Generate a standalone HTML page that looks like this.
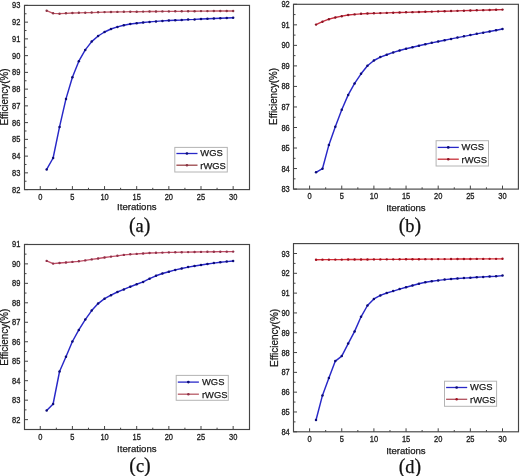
<!DOCTYPE html>
<html><head><meta charset="utf-8"><title>WGS vs rWGS efficiency</title>
<style>
html,body{margin:0;padding:0;background:#fff;}
body{width:520px;height:476px;overflow:hidden;}
svg{display:block;}
text{font-family:"Liberation Sans",Arial,sans-serif;fill:#1a1a1a;}
.tk text{font-size:8.5px;stroke:#1a1a1a;stroke-width:0.3px;}
.lg{font-size:9.4px;stroke:#1a1a1a;stroke-width:0.25px;}
.at{font-size:9.6px;stroke:#1a1a1a;stroke-width:0.25px;}
.yt{font-size:10px;}
.pp{font-size:19.9px;}
.cap{font-family:"Liberation Serif","Times New Roman",serif;font-size:18.4px;fill:#111;stroke:#111;stroke-width:0.25px;}
</style></head><body>
<svg width="520" height="476" viewBox="0 0 520 476">
<rect width="520" height="476" fill="#fff"/>
<rect x="24.5" y="5.4" width="225" height="184.2" fill="none" stroke="#444444" stroke-width="1.15"/><g stroke="#444444" stroke-width="1"><line x1="24.5" y1="189.6" x2="28" y2="189.6"/><line x1="24.5" y1="172.85" x2="28" y2="172.85"/><line x1="24.5" y1="156.11" x2="28" y2="156.11"/><line x1="24.5" y1="139.36" x2="28" y2="139.36"/><line x1="24.5" y1="122.62" x2="28" y2="122.62"/><line x1="24.5" y1="105.87" x2="28" y2="105.87"/><line x1="24.5" y1="89.13" x2="28" y2="89.13"/><line x1="24.5" y1="72.38" x2="28" y2="72.38"/><line x1="24.5" y1="55.63" x2="28" y2="55.63"/><line x1="24.5" y1="38.89" x2="28" y2="38.89"/><line x1="24.5" y1="22.15" x2="28" y2="22.15"/><line x1="24.5" y1="5.4" x2="28" y2="5.4"/><line x1="24.5" y1="181.22" x2="26.5" y2="181.22"/><line x1="24.5" y1="164.48" x2="26.5" y2="164.48"/><line x1="24.5" y1="147.73" x2="26.5" y2="147.73"/><line x1="24.5" y1="130.99" x2="26.5" y2="130.99"/><line x1="24.5" y1="114.24" x2="26.5" y2="114.24"/><line x1="24.5" y1="97.5" x2="26.5" y2="97.5"/><line x1="24.5" y1="80.75" x2="26.5" y2="80.75"/><line x1="24.5" y1="64.01" x2="26.5" y2="64.01"/><line x1="24.5" y1="47.26" x2="26.5" y2="47.26"/><line x1="24.5" y1="30.52" x2="26.5" y2="30.52"/><line x1="24.5" y1="13.77" x2="26.5" y2="13.77"/><line x1="40.25" y1="189.6" x2="40.25" y2="186.1"/><line x1="72.4" y1="189.6" x2="72.4" y2="186.1"/><line x1="104.55" y1="189.6" x2="104.55" y2="186.1"/><line x1="136.7" y1="189.6" x2="136.7" y2="186.1"/><line x1="168.85" y1="189.6" x2="168.85" y2="186.1"/><line x1="201" y1="189.6" x2="201" y2="186.1"/><line x1="233.15" y1="189.6" x2="233.15" y2="186.1"/><line x1="56.33" y1="189.6" x2="56.33" y2="187.8"/><line x1="88.47" y1="189.6" x2="88.47" y2="187.8"/><line x1="120.62" y1="189.6" x2="120.62" y2="187.8"/><line x1="152.77" y1="189.6" x2="152.77" y2="187.8"/><line x1="184.92" y1="189.6" x2="184.92" y2="187.8"/><line x1="217.07" y1="189.6" x2="217.07" y2="187.8"/></g><g class="tk"><text transform="translate(20.3 192.6) scale(0.88 1)" text-anchor="end">82</text><text transform="translate(20.3 175.85) scale(0.88 1)" text-anchor="end">83</text><text transform="translate(20.3 159.11) scale(0.88 1)" text-anchor="end">84</text><text transform="translate(20.3 142.36) scale(0.88 1)" text-anchor="end">85</text><text transform="translate(20.3 125.62) scale(0.88 1)" text-anchor="end">86</text><text transform="translate(20.3 108.87) scale(0.88 1)" text-anchor="end">87</text><text transform="translate(20.3 92.13) scale(0.88 1)" text-anchor="end">88</text><text transform="translate(20.3 75.38) scale(0.88 1)" text-anchor="end">89</text><text transform="translate(20.3 58.63) scale(0.88 1)" text-anchor="end">90</text><text transform="translate(20.3 41.89) scale(0.88 1)" text-anchor="end">91</text><text transform="translate(20.3 25.15) scale(0.88 1)" text-anchor="end">92</text><text transform="translate(20.3 8.4) scale(0.88 1)" text-anchor="end">93</text><text transform="translate(40.25 199.9) scale(0.88 1)" text-anchor="middle">0</text><text transform="translate(72.4 199.9) scale(0.88 1)" text-anchor="middle">5</text><text transform="translate(104.55 199.9) scale(0.88 1)" text-anchor="middle">10</text><text transform="translate(136.7 199.9) scale(0.88 1)" text-anchor="middle">15</text><text transform="translate(168.85 199.9) scale(0.88 1)" text-anchor="middle">20</text><text transform="translate(201 199.9) scale(0.88 1)" text-anchor="middle">25</text><text transform="translate(233.15 199.9) scale(0.88 1)" text-anchor="middle">30</text></g><polyline points="46.68,10.7 53.11,13.3 59.54,13.7 65.97,13.3 72.4,13 78.83,12.8 85.26,12.7 91.69,12.55 98.12,12.3 104.55,12.1 110.98,12 117.41,11.9 123.84,11.8 130.27,11.7 136.7,11.7 143.13,11.6 149.56,11.5 155.99,11.5 162.42,11.4 168.85,11.4 175.28,11.3 181.71,11.3 188.14,11.2 194.57,11.2 201,11.1 207.43,11.1 213.86,11 220.29,11 226.72,11 233.15,11" fill="none" stroke="#c25868" stroke-width="1.35" stroke-linejoin="round"/><g fill="#8a3444"><circle cx="46.68" cy="10.7" r="1.2"/><circle cx="53.11" cy="13.3" r="1.2"/><circle cx="59.54" cy="13.7" r="1.2"/><circle cx="65.97" cy="13.3" r="1.2"/><circle cx="72.4" cy="13" r="1.2"/><circle cx="78.83" cy="12.8" r="1.2"/><circle cx="85.26" cy="12.7" r="1.2"/><circle cx="91.69" cy="12.55" r="1.2"/><circle cx="98.12" cy="12.3" r="1.2"/><circle cx="104.55" cy="12.1" r="1.2"/><circle cx="110.98" cy="12" r="1.2"/><circle cx="117.41" cy="11.9" r="1.2"/><circle cx="123.84" cy="11.8" r="1.2"/><circle cx="130.27" cy="11.7" r="1.2"/><circle cx="136.7" cy="11.7" r="1.2"/><circle cx="143.13" cy="11.6" r="1.2"/><circle cx="149.56" cy="11.5" r="1.2"/><circle cx="155.99" cy="11.5" r="1.2"/><circle cx="162.42" cy="11.4" r="1.2"/><circle cx="168.85" cy="11.4" r="1.2"/><circle cx="175.28" cy="11.3" r="1.2"/><circle cx="181.71" cy="11.3" r="1.2"/><circle cx="188.14" cy="11.2" r="1.2"/><circle cx="194.57" cy="11.2" r="1.2"/><circle cx="201" cy="11.1" r="1.2"/><circle cx="207.43" cy="11.1" r="1.2"/><circle cx="213.86" cy="11" r="1.2"/><circle cx="220.29" cy="11" r="1.2"/><circle cx="226.72" cy="11" r="1.2"/><circle cx="233.15" cy="11" r="1.2"/></g><polyline points="46.68,169.4 53.11,158 59.54,126.9 65.97,98.9 72.4,77.3 78.83,61.2 85.26,49.9 91.69,41.6 98.12,36 104.55,32 110.98,29 117.41,26.9 123.84,25.25 130.27,24 136.7,23.25 143.13,22.5 149.56,21.9 155.99,21.4 162.42,20.9 168.85,20.5 175.28,20.25 181.71,20 188.14,19.6 194.57,19.4 201,19 207.43,18.75 213.86,18.5 220.29,18.25 226.72,18 233.15,17.8" fill="none" stroke="#2828c8" stroke-width="1.45" stroke-linejoin="round"/><g fill="#0c0c78"><circle cx="46.68" cy="169.4" r="1.25"/><circle cx="53.11" cy="158" r="1.25"/><circle cx="59.54" cy="126.9" r="1.25"/><circle cx="65.97" cy="98.9" r="1.25"/><circle cx="72.4" cy="77.3" r="1.25"/><circle cx="78.83" cy="61.2" r="1.25"/><circle cx="85.26" cy="49.9" r="1.25"/><circle cx="91.69" cy="41.6" r="1.25"/><circle cx="98.12" cy="36" r="1.25"/><circle cx="104.55" cy="32" r="1.25"/><circle cx="110.98" cy="29" r="1.25"/><circle cx="117.41" cy="26.9" r="1.25"/><circle cx="123.84" cy="25.25" r="1.25"/><circle cx="130.27" cy="24" r="1.25"/><circle cx="136.7" cy="23.25" r="1.25"/><circle cx="143.13" cy="22.5" r="1.25"/><circle cx="149.56" cy="21.9" r="1.25"/><circle cx="155.99" cy="21.4" r="1.25"/><circle cx="162.42" cy="20.9" r="1.25"/><circle cx="168.85" cy="20.5" r="1.25"/><circle cx="175.28" cy="20.25" r="1.25"/><circle cx="181.71" cy="20" r="1.25"/><circle cx="188.14" cy="19.6" r="1.25"/><circle cx="194.57" cy="19.4" r="1.25"/><circle cx="201" cy="19" r="1.25"/><circle cx="207.43" cy="18.75" r="1.25"/><circle cx="213.86" cy="18.5" r="1.25"/><circle cx="220.29" cy="18.25" r="1.25"/><circle cx="226.72" cy="18" r="1.25"/><circle cx="233.15" cy="17.8" r="1.25"/></g><rect x="174.8" y="147.4" width="52.5" height="24.6" fill="#fff" stroke="#b4b4b4" stroke-width="1"/><line x1="176.4" y1="153.5" x2="197.5" y2="153.5" stroke="#2828c8" stroke-width="1.3"/><circle cx="186.95" cy="153.5" r="1.35" fill="#0c0c78"/><line x1="176.4" y1="165.2" x2="197.5" y2="165.2" stroke="#9a4448" stroke-width="1.3"/><circle cx="186.95" cy="165.2" r="1.25" fill="#8a3444"/><text class="lg" x="200.3" y="156.4">WGS</text><text class="lg" x="200.3" y="168.7">rWGS</text><text class="at yt" transform="translate(7.9 97.1) rotate(-90)" text-anchor="middle" textLength="57" lengthAdjust="spacingAndGlyphs">Efficiency(%)</text><text class="at" x="136.8" y="209.9" text-anchor="middle">Iterations</text><text class="cap" x="139.6" y="231.9" text-anchor="middle"><tspan class="pp">(</tspan>a<tspan class="pp">)</tspan></text><rect x="293.5" y="4.3" width="224.9" height="184.8" fill="none" stroke="#444444" stroke-width="1.15"/><g stroke="#444444" stroke-width="1"><line x1="293.5" y1="189.1" x2="297" y2="189.1"/><line x1="293.5" y1="168.56" x2="297" y2="168.56"/><line x1="293.5" y1="148.03" x2="297" y2="148.03"/><line x1="293.5" y1="127.5" x2="297" y2="127.5"/><line x1="293.5" y1="106.97" x2="297" y2="106.97"/><line x1="293.5" y1="86.43" x2="297" y2="86.43"/><line x1="293.5" y1="65.9" x2="297" y2="65.9"/><line x1="293.5" y1="45.37" x2="297" y2="45.37"/><line x1="293.5" y1="24.83" x2="297" y2="24.83"/><line x1="293.5" y1="4.3" x2="297" y2="4.3"/><line x1="293.5" y1="178.83" x2="295.5" y2="178.83"/><line x1="293.5" y1="158.3" x2="295.5" y2="158.3"/><line x1="293.5" y1="137.76" x2="295.5" y2="137.76"/><line x1="293.5" y1="117.23" x2="295.5" y2="117.23"/><line x1="293.5" y1="96.7" x2="295.5" y2="96.7"/><line x1="293.5" y1="76.17" x2="295.5" y2="76.17"/><line x1="293.5" y1="55.63" x2="295.5" y2="55.63"/><line x1="293.5" y1="35.1" x2="295.5" y2="35.1"/><line x1="293.5" y1="14.57" x2="295.5" y2="14.57"/><line x1="309.6" y1="189.1" x2="309.6" y2="185.6"/><line x1="341.75" y1="189.1" x2="341.75" y2="185.6"/><line x1="373.9" y1="189.1" x2="373.9" y2="185.6"/><line x1="406.05" y1="189.1" x2="406.05" y2="185.6"/><line x1="438.2" y1="189.1" x2="438.2" y2="185.6"/><line x1="470.35" y1="189.1" x2="470.35" y2="185.6"/><line x1="502.5" y1="189.1" x2="502.5" y2="185.6"/><line x1="325.68" y1="189.1" x2="325.68" y2="187.3"/><line x1="357.83" y1="189.1" x2="357.83" y2="187.3"/><line x1="389.98" y1="189.1" x2="389.98" y2="187.3"/><line x1="422.12" y1="189.1" x2="422.12" y2="187.3"/><line x1="454.27" y1="189.1" x2="454.27" y2="187.3"/><line x1="486.43" y1="189.1" x2="486.43" y2="187.3"/></g><g class="tk"><text transform="translate(289.7 192.1) scale(0.88 1)" text-anchor="end">83</text><text transform="translate(289.7 171.56) scale(0.88 1)" text-anchor="end">84</text><text transform="translate(289.7 151.03) scale(0.88 1)" text-anchor="end">85</text><text transform="translate(289.7 130.5) scale(0.88 1)" text-anchor="end">86</text><text transform="translate(289.7 109.97) scale(0.88 1)" text-anchor="end">87</text><text transform="translate(289.7 89.43) scale(0.88 1)" text-anchor="end">88</text><text transform="translate(289.7 68.9) scale(0.88 1)" text-anchor="end">89</text><text transform="translate(289.7 48.37) scale(0.88 1)" text-anchor="end">90</text><text transform="translate(289.7 27.83) scale(0.88 1)" text-anchor="end">91</text><text transform="translate(289.7 7.3) scale(0.88 1)" text-anchor="end">92</text><text transform="translate(309.6 199.4) scale(0.88 1)" text-anchor="middle">0</text><text transform="translate(341.75 199.4) scale(0.88 1)" text-anchor="middle">5</text><text transform="translate(373.9 199.4) scale(0.88 1)" text-anchor="middle">10</text><text transform="translate(406.05 199.4) scale(0.88 1)" text-anchor="middle">15</text><text transform="translate(438.2 199.4) scale(0.88 1)" text-anchor="middle">20</text><text transform="translate(470.35 199.4) scale(0.88 1)" text-anchor="middle">25</text><text transform="translate(502.5 199.4) scale(0.88 1)" text-anchor="middle">30</text></g><polyline points="316.03,24.6 322.46,21.7 328.89,19.2 335.32,17.5 341.75,16.2 348.18,15 354.61,14.4 361.04,13.8 367.47,13.5 373.9,13.3 380.33,13.1 386.76,12.9 393.19,12.7 399.62,12.5 406.05,12.32 412.48,12.14 418.91,11.96 425.34,11.78 431.77,11.59 438.2,11.41 444.63,11.23 451.06,11.05 457.49,10.87 463.92,10.69 470.35,10.51 476.78,10.32 483.21,10.14 489.64,9.96 496.07,9.78 502.5,9.6" fill="none" stroke="#c42c3c" stroke-width="1.35" stroke-linejoin="round"/><g fill="#8a1424"><circle cx="316.03" cy="24.6" r="1.2"/><circle cx="322.46" cy="21.7" r="1.2"/><circle cx="328.89" cy="19.2" r="1.2"/><circle cx="335.32" cy="17.5" r="1.2"/><circle cx="341.75" cy="16.2" r="1.2"/><circle cx="348.18" cy="15" r="1.2"/><circle cx="354.61" cy="14.4" r="1.2"/><circle cx="361.04" cy="13.8" r="1.2"/><circle cx="367.47" cy="13.5" r="1.2"/><circle cx="373.9" cy="13.3" r="1.2"/><circle cx="380.33" cy="13.1" r="1.2"/><circle cx="386.76" cy="12.9" r="1.2"/><circle cx="393.19" cy="12.7" r="1.2"/><circle cx="399.62" cy="12.5" r="1.2"/><circle cx="406.05" cy="12.32" r="1.2"/><circle cx="412.48" cy="12.14" r="1.2"/><circle cx="418.91" cy="11.96" r="1.2"/><circle cx="425.34" cy="11.78" r="1.2"/><circle cx="431.77" cy="11.59" r="1.2"/><circle cx="438.2" cy="11.41" r="1.2"/><circle cx="444.63" cy="11.23" r="1.2"/><circle cx="451.06" cy="11.05" r="1.2"/><circle cx="457.49" cy="10.87" r="1.2"/><circle cx="463.92" cy="10.69" r="1.2"/><circle cx="470.35" cy="10.51" r="1.2"/><circle cx="476.78" cy="10.32" r="1.2"/><circle cx="483.21" cy="10.14" r="1.2"/><circle cx="489.64" cy="9.96" r="1.2"/><circle cx="496.07" cy="9.78" r="1.2"/><circle cx="502.5" cy="9.6" r="1.2"/></g><polyline points="316.03,172.3 322.46,168.7 328.89,144.9 335.32,126.7 341.75,109.7 348.18,94.9 354.61,83.4 361.04,73.8 367.47,65.7 373.9,60.5 380.33,57.1 386.76,54.7 393.19,52.4 399.62,50.5 406.05,48.8 412.48,47.3 418.91,45.8 425.34,44.25 431.77,42.85 438.2,41.5 444.63,40.19 451.06,38.89 457.49,37.61 463.92,36.35 470.35,35.1 476.78,33.87 483.21,32.64 489.64,31.42 496.07,30.21 502.5,29" fill="none" stroke="#2828c8" stroke-width="1.45" stroke-linejoin="round"/><g fill="#0c0c78"><circle cx="316.03" cy="172.3" r="1.25"/><circle cx="322.46" cy="168.7" r="1.25"/><circle cx="328.89" cy="144.9" r="1.25"/><circle cx="335.32" cy="126.7" r="1.25"/><circle cx="341.75" cy="109.7" r="1.25"/><circle cx="348.18" cy="94.9" r="1.25"/><circle cx="354.61" cy="83.4" r="1.25"/><circle cx="361.04" cy="73.8" r="1.25"/><circle cx="367.47" cy="65.7" r="1.25"/><circle cx="373.9" cy="60.5" r="1.25"/><circle cx="380.33" cy="57.1" r="1.25"/><circle cx="386.76" cy="54.7" r="1.25"/><circle cx="393.19" cy="52.4" r="1.25"/><circle cx="399.62" cy="50.5" r="1.25"/><circle cx="406.05" cy="48.8" r="1.25"/><circle cx="412.48" cy="47.3" r="1.25"/><circle cx="418.91" cy="45.8" r="1.25"/><circle cx="425.34" cy="44.25" r="1.25"/><circle cx="431.77" cy="42.85" r="1.25"/><circle cx="438.2" cy="41.5" r="1.25"/><circle cx="444.63" cy="40.19" r="1.25"/><circle cx="451.06" cy="38.89" r="1.25"/><circle cx="457.49" cy="37.61" r="1.25"/><circle cx="463.92" cy="36.35" r="1.25"/><circle cx="470.35" cy="35.1" r="1.25"/><circle cx="476.78" cy="33.87" r="1.25"/><circle cx="483.21" cy="32.64" r="1.25"/><circle cx="489.64" cy="31.42" r="1.25"/><circle cx="496.07" cy="30.21" r="1.25"/><circle cx="502.5" cy="29" r="1.25"/></g><rect x="436.1" y="140.7" width="52.4" height="25.3" fill="#fff" stroke="#b4b4b4" stroke-width="1"/><line x1="437.7" y1="147.4" x2="458.8" y2="147.4" stroke="#2828c8" stroke-width="1.3"/><circle cx="448.25" cy="147.4" r="1.35" fill="#0c0c78"/><line x1="437.7" y1="159.2" x2="458.8" y2="159.2" stroke="#c83038" stroke-width="1.3"/><circle cx="448.25" cy="159.2" r="1.25" fill="#8a1424"/><text class="lg" x="461.6" y="150.3">WGS</text><text class="lg" x="461.6" y="162.7">rWGS</text><text class="at yt" transform="translate(277.4 96.4) rotate(-90)" text-anchor="middle" textLength="57" lengthAdjust="spacingAndGlyphs">Efficiency(%)</text><text class="at" x="405.9" y="210.9" text-anchor="middle">Iterations</text><text class="cap" x="409.9" y="231.9" text-anchor="middle"><tspan class="pp">(</tspan>b<tspan class="pp">)</tspan></text><rect x="24.5" y="244.5" width="225" height="185" fill="none" stroke="#444444" stroke-width="1.15"/><g stroke="#444444" stroke-width="1"><line x1="24.5" y1="419.63" x2="28" y2="419.63"/><line x1="24.5" y1="400.16" x2="28" y2="400.16"/><line x1="24.5" y1="380.69" x2="28" y2="380.69"/><line x1="24.5" y1="361.22" x2="28" y2="361.22"/><line x1="24.5" y1="341.75" x2="28" y2="341.75"/><line x1="24.5" y1="322.28" x2="28" y2="322.28"/><line x1="24.5" y1="302.81" x2="28" y2="302.81"/><line x1="24.5" y1="283.34" x2="28" y2="283.34"/><line x1="24.5" y1="263.87" x2="28" y2="263.87"/><line x1="24.5" y1="244.4" x2="28" y2="244.4"/><line x1="24.5" y1="409.89" x2="26.5" y2="409.89"/><line x1="24.5" y1="390.42" x2="26.5" y2="390.42"/><line x1="24.5" y1="370.95" x2="26.5" y2="370.95"/><line x1="24.5" y1="351.49" x2="26.5" y2="351.49"/><line x1="24.5" y1="332.01" x2="26.5" y2="332.01"/><line x1="24.5" y1="312.55" x2="26.5" y2="312.55"/><line x1="24.5" y1="293.07" x2="26.5" y2="293.07"/><line x1="24.5" y1="273.61" x2="26.5" y2="273.61"/><line x1="24.5" y1="254.13" x2="26.5" y2="254.13"/><line x1="40.25" y1="429.5" x2="40.25" y2="426"/><line x1="72.4" y1="429.5" x2="72.4" y2="426"/><line x1="104.55" y1="429.5" x2="104.55" y2="426"/><line x1="136.7" y1="429.5" x2="136.7" y2="426"/><line x1="168.85" y1="429.5" x2="168.85" y2="426"/><line x1="201" y1="429.5" x2="201" y2="426"/><line x1="233.15" y1="429.5" x2="233.15" y2="426"/><line x1="56.33" y1="429.5" x2="56.33" y2="427.7"/><line x1="88.47" y1="429.5" x2="88.47" y2="427.7"/><line x1="120.62" y1="429.5" x2="120.62" y2="427.7"/><line x1="152.77" y1="429.5" x2="152.77" y2="427.7"/><line x1="184.92" y1="429.5" x2="184.92" y2="427.7"/><line x1="217.07" y1="429.5" x2="217.07" y2="427.7"/></g><g class="tk"><text transform="translate(20.3 422.63) scale(0.88 1)" text-anchor="end">82</text><text transform="translate(20.3 403.16) scale(0.88 1)" text-anchor="end">83</text><text transform="translate(20.3 383.69) scale(0.88 1)" text-anchor="end">84</text><text transform="translate(20.3 364.22) scale(0.88 1)" text-anchor="end">85</text><text transform="translate(20.3 344.75) scale(0.88 1)" text-anchor="end">86</text><text transform="translate(20.3 325.28) scale(0.88 1)" text-anchor="end">87</text><text transform="translate(20.3 305.81) scale(0.88 1)" text-anchor="end">88</text><text transform="translate(20.3 286.34) scale(0.88 1)" text-anchor="end">89</text><text transform="translate(20.3 266.87) scale(0.88 1)" text-anchor="end">90</text><text transform="translate(20.3 247.4) scale(0.88 1)" text-anchor="end">91</text><text transform="translate(40.25 439.8) scale(0.88 1)" text-anchor="middle">0</text><text transform="translate(72.4 439.8) scale(0.88 1)" text-anchor="middle">5</text><text transform="translate(104.55 439.8) scale(0.88 1)" text-anchor="middle">10</text><text transform="translate(136.7 439.8) scale(0.88 1)" text-anchor="middle">15</text><text transform="translate(168.85 439.8) scale(0.88 1)" text-anchor="middle">20</text><text transform="translate(201 439.8) scale(0.88 1)" text-anchor="middle">25</text><text transform="translate(233.15 439.8) scale(0.88 1)" text-anchor="middle">30</text></g><polyline points="46.68,260.9 53.11,263.6 59.54,263 65.97,262.5 72.4,261.9 78.83,261.3 85.26,260.4 91.69,259.4 98.12,258.5 104.55,257.5 110.98,256.6 117.41,255.8 123.84,254.9 130.27,254.3 136.7,253.9 143.13,253.5 149.56,253 155.99,252.8 162.42,252.6 168.85,252.4 175.28,252.3 181.71,252.2 188.14,252.1 194.57,252 201,251.9 207.43,251.8 213.86,251.75 220.29,251.7 226.72,251.65 233.15,251.6" fill="none" stroke="#c05068" stroke-width="1.35" stroke-linejoin="round"/><g fill="#903048"><circle cx="46.68" cy="260.9" r="1.2"/><circle cx="53.11" cy="263.6" r="1.2"/><circle cx="59.54" cy="263" r="1.2"/><circle cx="65.97" cy="262.5" r="1.2"/><circle cx="72.4" cy="261.9" r="1.2"/><circle cx="78.83" cy="261.3" r="1.2"/><circle cx="85.26" cy="260.4" r="1.2"/><circle cx="91.69" cy="259.4" r="1.2"/><circle cx="98.12" cy="258.5" r="1.2"/><circle cx="104.55" cy="257.5" r="1.2"/><circle cx="110.98" cy="256.6" r="1.2"/><circle cx="117.41" cy="255.8" r="1.2"/><circle cx="123.84" cy="254.9" r="1.2"/><circle cx="130.27" cy="254.3" r="1.2"/><circle cx="136.7" cy="253.9" r="1.2"/><circle cx="143.13" cy="253.5" r="1.2"/><circle cx="149.56" cy="253" r="1.2"/><circle cx="155.99" cy="252.8" r="1.2"/><circle cx="162.42" cy="252.6" r="1.2"/><circle cx="168.85" cy="252.4" r="1.2"/><circle cx="175.28" cy="252.3" r="1.2"/><circle cx="181.71" cy="252.2" r="1.2"/><circle cx="188.14" cy="252.1" r="1.2"/><circle cx="194.57" cy="252" r="1.2"/><circle cx="201" cy="251.9" r="1.2"/><circle cx="207.43" cy="251.8" r="1.2"/><circle cx="213.86" cy="251.75" r="1.2"/><circle cx="220.29" cy="251.7" r="1.2"/><circle cx="226.72" cy="251.65" r="1.2"/><circle cx="233.15" cy="251.6" r="1.2"/></g><polyline points="46.68,410.5 53.11,404 59.54,371.5 65.97,356.8 72.4,341.5 78.83,329.9 85.26,319.6 91.69,310.6 98.12,303.6 104.55,298.7 110.98,295.2 117.41,292 123.84,289.4 130.27,286.7 136.7,284.2 143.13,281.9 149.56,278.7 155.99,275.8 162.42,273.5 168.85,271.7 175.28,269.9 181.71,268.5 188.14,267.1 194.57,266 201,265 207.43,264 213.86,263.1 220.29,262.3 226.72,261.6 233.15,261" fill="none" stroke="#2828c8" stroke-width="1.45" stroke-linejoin="round"/><g fill="#0c0c78"><circle cx="46.68" cy="410.5" r="1.25"/><circle cx="53.11" cy="404" r="1.25"/><circle cx="59.54" cy="371.5" r="1.25"/><circle cx="65.97" cy="356.8" r="1.25"/><circle cx="72.4" cy="341.5" r="1.25"/><circle cx="78.83" cy="329.9" r="1.25"/><circle cx="85.26" cy="319.6" r="1.25"/><circle cx="91.69" cy="310.6" r="1.25"/><circle cx="98.12" cy="303.6" r="1.25"/><circle cx="104.55" cy="298.7" r="1.25"/><circle cx="110.98" cy="295.2" r="1.25"/><circle cx="117.41" cy="292" r="1.25"/><circle cx="123.84" cy="289.4" r="1.25"/><circle cx="130.27" cy="286.7" r="1.25"/><circle cx="136.7" cy="284.2" r="1.25"/><circle cx="143.13" cy="281.9" r="1.25"/><circle cx="149.56" cy="278.7" r="1.25"/><circle cx="155.99" cy="275.8" r="1.25"/><circle cx="162.42" cy="273.5" r="1.25"/><circle cx="168.85" cy="271.7" r="1.25"/><circle cx="175.28" cy="269.9" r="1.25"/><circle cx="181.71" cy="268.5" r="1.25"/><circle cx="188.14" cy="267.1" r="1.25"/><circle cx="194.57" cy="266" r="1.25"/><circle cx="201" cy="265" r="1.25"/><circle cx="207.43" cy="264" r="1.25"/><circle cx="213.86" cy="263.1" r="1.25"/><circle cx="220.29" cy="262.3" r="1.25"/><circle cx="226.72" cy="261.6" r="1.25"/><circle cx="233.15" cy="261" r="1.25"/></g><rect x="176.2" y="375.4" width="52.1" height="24.9" fill="#fff" stroke="#b4b4b4" stroke-width="1"/><line x1="177.8" y1="382.1" x2="198.9" y2="382.1" stroke="#2828c8" stroke-width="1.3"/><circle cx="188.35" cy="382.1" r="1.35" fill="#0c0c78"/><line x1="177.8" y1="394.2" x2="198.9" y2="394.2" stroke="#b85a66" stroke-width="1.3"/><circle cx="188.35" cy="394.2" r="1.25" fill="#903048"/><text class="lg" x="202" y="385">WGS</text><text class="lg" x="202" y="397.7">rWGS</text><text class="at yt" transform="translate(8.2 337.2) rotate(-90)" text-anchor="middle" textLength="57" lengthAdjust="spacingAndGlyphs">Efficiency(%)</text><text class="at" x="136.8" y="451.8" text-anchor="middle">Iterations</text><text class="cap" x="140" y="472.1" text-anchor="middle"><tspan class="pp">(</tspan>c<tspan class="pp">)</tspan></text><rect x="293.5" y="243.6" width="225" height="188.2" fill="none" stroke="#444444" stroke-width="1.15"/><g stroke="#444444" stroke-width="1"><line x1="293.5" y1="431.79" x2="297" y2="431.79"/><line x1="293.5" y1="411.98" x2="297" y2="411.98"/><line x1="293.5" y1="392.17" x2="297" y2="392.17"/><line x1="293.5" y1="372.36" x2="297" y2="372.36"/><line x1="293.5" y1="352.55" x2="297" y2="352.55"/><line x1="293.5" y1="332.74" x2="297" y2="332.74"/><line x1="293.5" y1="312.93" x2="297" y2="312.93"/><line x1="293.5" y1="293.12" x2="297" y2="293.12"/><line x1="293.5" y1="273.31" x2="297" y2="273.31"/><line x1="293.5" y1="253.5" x2="297" y2="253.5"/><line x1="293.5" y1="421.88" x2="295.5" y2="421.88"/><line x1="293.5" y1="402.07" x2="295.5" y2="402.07"/><line x1="293.5" y1="382.26" x2="295.5" y2="382.26"/><line x1="293.5" y1="362.45" x2="295.5" y2="362.45"/><line x1="293.5" y1="342.64" x2="295.5" y2="342.64"/><line x1="293.5" y1="322.83" x2="295.5" y2="322.83"/><line x1="293.5" y1="303.02" x2="295.5" y2="303.02"/><line x1="293.5" y1="283.21" x2="295.5" y2="283.21"/><line x1="293.5" y1="263.4" x2="295.5" y2="263.4"/><line x1="309.6" y1="431.8" x2="309.6" y2="428.3"/><line x1="341.75" y1="431.8" x2="341.75" y2="428.3"/><line x1="373.9" y1="431.8" x2="373.9" y2="428.3"/><line x1="406.05" y1="431.8" x2="406.05" y2="428.3"/><line x1="438.2" y1="431.8" x2="438.2" y2="428.3"/><line x1="470.35" y1="431.8" x2="470.35" y2="428.3"/><line x1="502.5" y1="431.8" x2="502.5" y2="428.3"/><line x1="325.68" y1="431.8" x2="325.68" y2="430"/><line x1="357.83" y1="431.8" x2="357.83" y2="430"/><line x1="389.98" y1="431.8" x2="389.98" y2="430"/><line x1="422.12" y1="431.8" x2="422.12" y2="430"/><line x1="454.27" y1="431.8" x2="454.27" y2="430"/><line x1="486.43" y1="431.8" x2="486.43" y2="430"/></g><g class="tk"><text transform="translate(289.7 434.79) scale(0.88 1)" text-anchor="end">84</text><text transform="translate(289.7 414.98) scale(0.88 1)" text-anchor="end">85</text><text transform="translate(289.7 395.17) scale(0.88 1)" text-anchor="end">86</text><text transform="translate(289.7 375.36) scale(0.88 1)" text-anchor="end">87</text><text transform="translate(289.7 355.55) scale(0.88 1)" text-anchor="end">88</text><text transform="translate(289.7 335.74) scale(0.88 1)" text-anchor="end">89</text><text transform="translate(289.7 315.93) scale(0.88 1)" text-anchor="end">90</text><text transform="translate(289.7 296.12) scale(0.88 1)" text-anchor="end">91</text><text transform="translate(289.7 276.31) scale(0.88 1)" text-anchor="end">92</text><text transform="translate(289.7 256.5) scale(0.88 1)" text-anchor="end">93</text><text transform="translate(309.6 442.1) scale(0.88 1)" text-anchor="middle">0</text><text transform="translate(341.75 442.1) scale(0.88 1)" text-anchor="middle">5</text><text transform="translate(373.9 442.1) scale(0.88 1)" text-anchor="middle">10</text><text transform="translate(406.05 442.1) scale(0.88 1)" text-anchor="middle">15</text><text transform="translate(438.2 442.1) scale(0.88 1)" text-anchor="middle">20</text><text transform="translate(470.35 442.1) scale(0.88 1)" text-anchor="middle">25</text><text transform="translate(502.5 442.1) scale(0.88 1)" text-anchor="middle">30</text></g><polyline points="316.03,259.7 322.46,259.67 328.89,259.64 335.32,259.61 341.75,259.58 348.18,259.54 354.61,259.51 361.04,259.48 367.47,259.45 373.9,259.42 380.33,259.39 386.76,259.36 393.19,259.33 399.62,259.3 406.05,259.27 412.48,259.23 418.91,259.2 425.34,259.17 431.77,259.14 438.2,259.11 444.63,259.08 451.06,259.05 457.49,259.02 463.92,258.99 470.35,258.96 476.78,258.92 483.21,258.89 489.64,258.86 496.07,258.83 502.5,258.8" fill="none" stroke="#d83038" stroke-width="1.35" stroke-linejoin="round"/><g fill="#a01020"><circle cx="316.03" cy="259.7" r="1.2"/><circle cx="322.46" cy="259.67" r="1.2"/><circle cx="328.89" cy="259.64" r="1.2"/><circle cx="335.32" cy="259.61" r="1.2"/><circle cx="341.75" cy="259.58" r="1.2"/><circle cx="348.18" cy="259.54" r="1.2"/><circle cx="354.61" cy="259.51" r="1.2"/><circle cx="361.04" cy="259.48" r="1.2"/><circle cx="367.47" cy="259.45" r="1.2"/><circle cx="373.9" cy="259.42" r="1.2"/><circle cx="380.33" cy="259.39" r="1.2"/><circle cx="386.76" cy="259.36" r="1.2"/><circle cx="393.19" cy="259.33" r="1.2"/><circle cx="399.62" cy="259.3" r="1.2"/><circle cx="406.05" cy="259.27" r="1.2"/><circle cx="412.48" cy="259.23" r="1.2"/><circle cx="418.91" cy="259.2" r="1.2"/><circle cx="425.34" cy="259.17" r="1.2"/><circle cx="431.77" cy="259.14" r="1.2"/><circle cx="438.2" cy="259.11" r="1.2"/><circle cx="444.63" cy="259.08" r="1.2"/><circle cx="451.06" cy="259.05" r="1.2"/><circle cx="457.49" cy="259.02" r="1.2"/><circle cx="463.92" cy="258.99" r="1.2"/><circle cx="470.35" cy="258.96" r="1.2"/><circle cx="476.78" cy="258.92" r="1.2"/><circle cx="483.21" cy="258.89" r="1.2"/><circle cx="489.64" cy="258.86" r="1.2"/><circle cx="496.07" cy="258.83" r="1.2"/><circle cx="502.5" cy="258.8" r="1.2"/></g><polyline points="316.03,420 322.46,395.4 328.89,378 335.32,361.1 341.75,356.1 348.18,343.6 354.61,331.4 361.04,316.8 367.47,305.5 373.9,298.9 380.33,295.4 386.76,293 393.19,291.1 399.62,289.1 406.05,287.3 412.48,285.5 418.91,283.7 425.34,282.3 431.77,281.3 438.2,280.4 444.63,279.6 451.06,279 457.49,278.5 463.92,278.1 470.35,277.7 476.78,277.3 483.21,276.9 489.64,276.5 496.07,276.2 502.5,275.6" fill="none" stroke="#2828c8" stroke-width="1.45" stroke-linejoin="round"/><g fill="#0c0c78"><circle cx="316.03" cy="420" r="1.25"/><circle cx="322.46" cy="395.4" r="1.25"/><circle cx="328.89" cy="378" r="1.25"/><circle cx="335.32" cy="361.1" r="1.25"/><circle cx="341.75" cy="356.1" r="1.25"/><circle cx="348.18" cy="343.6" r="1.25"/><circle cx="354.61" cy="331.4" r="1.25"/><circle cx="361.04" cy="316.8" r="1.25"/><circle cx="367.47" cy="305.5" r="1.25"/><circle cx="373.9" cy="298.9" r="1.25"/><circle cx="380.33" cy="295.4" r="1.25"/><circle cx="386.76" cy="293" r="1.25"/><circle cx="393.19" cy="291.1" r="1.25"/><circle cx="399.62" cy="289.1" r="1.25"/><circle cx="406.05" cy="287.3" r="1.25"/><circle cx="412.48" cy="285.5" r="1.25"/><circle cx="418.91" cy="283.7" r="1.25"/><circle cx="425.34" cy="282.3" r="1.25"/><circle cx="431.77" cy="281.3" r="1.25"/><circle cx="438.2" cy="280.4" r="1.25"/><circle cx="444.63" cy="279.6" r="1.25"/><circle cx="451.06" cy="279" r="1.25"/><circle cx="457.49" cy="278.5" r="1.25"/><circle cx="463.92" cy="278.1" r="1.25"/><circle cx="470.35" cy="277.7" r="1.25"/><circle cx="476.78" cy="277.3" r="1.25"/><circle cx="483.21" cy="276.9" r="1.25"/><circle cx="489.64" cy="276.5" r="1.25"/><circle cx="496.07" cy="276.2" r="1.25"/><circle cx="502.5" cy="275.6" r="1.25"/></g><rect x="444.5" y="381.2" width="52.1" height="25.1" fill="#fff" stroke="#b4b4b4" stroke-width="1"/><line x1="446.1" y1="387.5" x2="467.2" y2="387.5" stroke="#2828c8" stroke-width="1.3"/><circle cx="456.65" cy="387.5" r="1.35" fill="#0c0c78"/><line x1="446.1" y1="399.3" x2="467.2" y2="399.3" stroke="#b0505c" stroke-width="1.3"/><circle cx="456.65" cy="399.3" r="1.25" fill="#a01020"/><text class="lg" x="470.1" y="390.4">WGS</text><text class="lg" x="470.1" y="402.8">rWGS</text><text class="at yt" transform="translate(278 337.9) rotate(-90)" text-anchor="middle" textLength="58" lengthAdjust="spacingAndGlyphs">Efficiency(%)</text><text class="at" x="405.9" y="453.8" text-anchor="middle">Iterations</text><text class="cap" x="409.9" y="472.5" text-anchor="middle"><tspan class="pp">(</tspan>d<tspan class="pp">)</tspan></text>
</svg>
</body></html>
